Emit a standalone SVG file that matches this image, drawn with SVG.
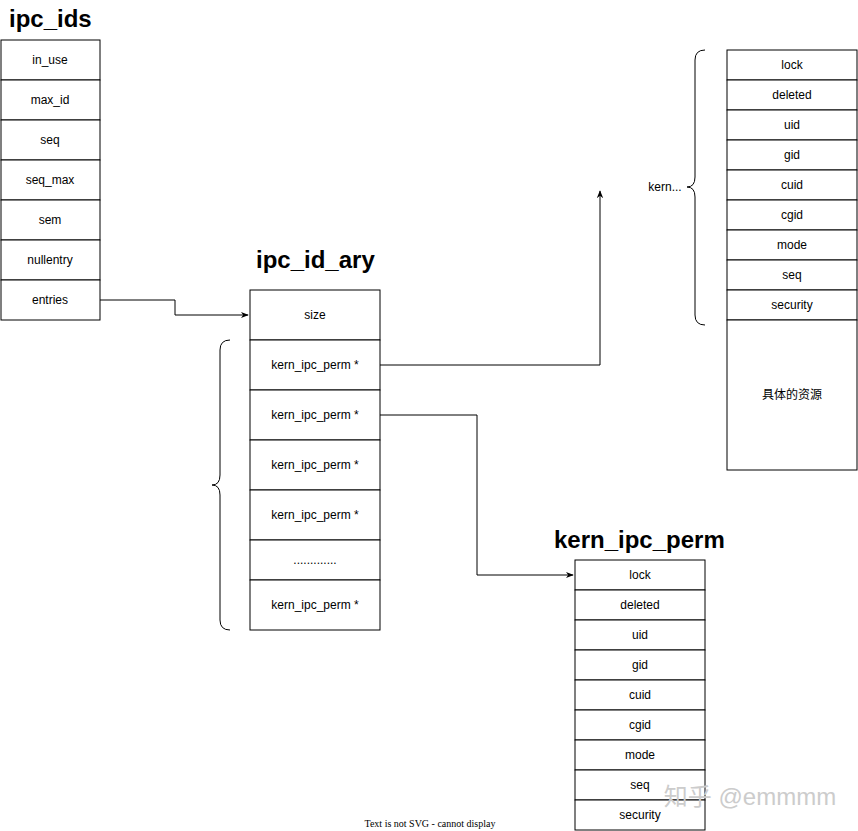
<svg xmlns="http://www.w3.org/2000/svg" width="858" height="831" viewBox="0 0 858 831">
<style>
.c{fill:#fff;stroke:#000;stroke-width:1}
.t{font-family:"Liberation Sans",Arial,sans-serif;font-size:12px;text-anchor:middle;dominant-baseline:central;fill:#000}
.h{font-family:"Liberation Sans",Arial,sans-serif;font-size:24px;font-weight:bold;fill:#000}
.l{fill:none;stroke:#000;stroke-width:1}
</style>
<defs><marker id="a" viewBox="0 0 10 10" refX="9" refY="5" markerWidth="8" markerHeight="8" orient="auto"><path d="M0,1 L10,5 L0,9 L3,5 Z" fill="#000"/></marker></defs>
<rect width="858" height="831" fill="#fff"/>
<g id="ipc_ids">
<text class="h" x="9" y="27">ipc_ids</text>
<rect class="c" x="1" y="40" width="99" height="40"/><text class="t" x="50" y="60">in_use</text>
<rect class="c" x="1" y="80" width="99" height="40"/><text class="t" x="50" y="100">max_id</text>
<rect class="c" x="1" y="120" width="99" height="40"/><text class="t" x="50" y="140">seq</text>
<rect class="c" x="1" y="160" width="99" height="40"/><text class="t" x="50" y="180">seq_max</text>
<rect class="c" x="1" y="200" width="99" height="40"/><text class="t" x="50" y="220">sem</text>
<rect class="c" x="1" y="240" width="99" height="40"/><text class="t" x="50" y="260">nullentry</text>
<rect class="c" x="1" y="280" width="99" height="40"/><text class="t" x="50" y="300">entries</text>
</g>
<g id="ipc_id_ary">
<text class="h" x="256" y="268">ipc_id_ary</text>
<rect class="c" x="250" y="290" width="130" height="50"/><text class="t" x="315" y="315">size</text>
<rect class="c" x="250" y="340" width="130" height="50"/><text class="t" x="315" y="365">kern_ipc_perm *</text>
<rect class="c" x="250" y="390" width="130" height="50"/><text class="t" x="315" y="415">kern_ipc_perm *</text>
<rect class="c" x="250" y="440" width="130" height="50"/><text class="t" x="315" y="465">kern_ipc_perm *</text>
<rect class="c" x="250" y="490" width="130" height="50"/><text class="t" x="315" y="515">kern_ipc_perm *</text>
<rect class="c" x="250" y="540" width="130" height="40"/><text class="t" x="315" y="560">.............</text>
<rect class="c" x="250" y="580" width="130" height="50"/><text class="t" x="315" y="605">kern_ipc_perm *</text>
<path class="l" d="M230,340 Q220,340 220,350 L220,475 Q220,485 212,485 Q220,485 220,495 L220,620 Q220,630 230,630"/>
</g>
<g id="kern_ipc_perm">
<text class="h" x="554" y="548">kern_ipc_perm</text>
<rect class="c" x="575" y="560" width="130" height="30"/><text class="t" x="640" y="575">lock</text>
<rect class="c" x="575" y="590" width="130" height="30"/><text class="t" x="640" y="605">deleted</text>
<rect class="c" x="575" y="620" width="130" height="30"/><text class="t" x="640" y="635">uid</text>
<rect class="c" x="575" y="650" width="130" height="30"/><text class="t" x="640" y="665">gid</text>
<rect class="c" x="575" y="680" width="130" height="30"/><text class="t" x="640" y="695">cuid</text>
<rect class="c" x="575" y="710" width="130" height="30"/><text class="t" x="640" y="725">cgid</text>
<rect class="c" x="575" y="740" width="130" height="30"/><text class="t" x="640" y="755">mode</text>
<rect class="c" x="575" y="770" width="130" height="30"/><text class="t" x="640" y="785">seq</text>
<rect class="c" x="575" y="800" width="130" height="30"/><text class="t" x="640" y="815">security</text>
</g>
<g id="resource">
<rect class="c" x="727" y="50" width="130" height="30"/><text class="t" x="792" y="65">lock</text>
<rect class="c" x="727" y="80" width="130" height="30"/><text class="t" x="792" y="95">deleted</text>
<rect class="c" x="727" y="110" width="130" height="30"/><text class="t" x="792" y="125">uid</text>
<rect class="c" x="727" y="140" width="130" height="30"/><text class="t" x="792" y="155">gid</text>
<rect class="c" x="727" y="170" width="130" height="30"/><text class="t" x="792" y="185">cuid</text>
<rect class="c" x="727" y="200" width="130" height="30"/><text class="t" x="792" y="215">cgid</text>
<rect class="c" x="727" y="230" width="130" height="30"/><text class="t" x="792" y="245">mode</text>
<rect class="c" x="727" y="260" width="130" height="30"/><text class="t" x="792" y="275">seq</text>
<rect class="c" x="727" y="290" width="130" height="30"/><text class="t" x="792" y="305">security</text>
<rect class="c" x="727" y="320" width="130" height="150"/><text class="t" x="792" y="395" style="font-family:'Liberation Sans','Noto Sans CJK SC',sans-serif">具体的资源</text>
<path class="l" d="M705,50 Q695,50 695,60 L695,177 Q695,187 687,187 Q695,187 695,197 L695,315 Q695,325 705,325"/>
<text class="t" x="665" y="187">kern...</text>
</g>
<g id="connectors">
<path class="l" d="M100,300 L175,300 L175,315 L248,315" marker-end="url(#a)"/>
<path class="l" d="M380,365 L600,365 L600,191" marker-end="url(#a)"/>
<path class="l" d="M380,415 L477,415 L477,575 L573,575" marker-end="url(#a)"/>
</g>
<text x="430" y="827" style="font-family:'Liberation Serif',serif;font-size:10px;text-anchor:middle">Text is not SVG - cannot display</text>
<text x="750" y="805" style="font-family:'Liberation Sans','Noto Sans CJK SC',sans-serif;font-size:24px;text-anchor:middle;fill:#ccc">知乎 @emmmm</text>
</svg>
